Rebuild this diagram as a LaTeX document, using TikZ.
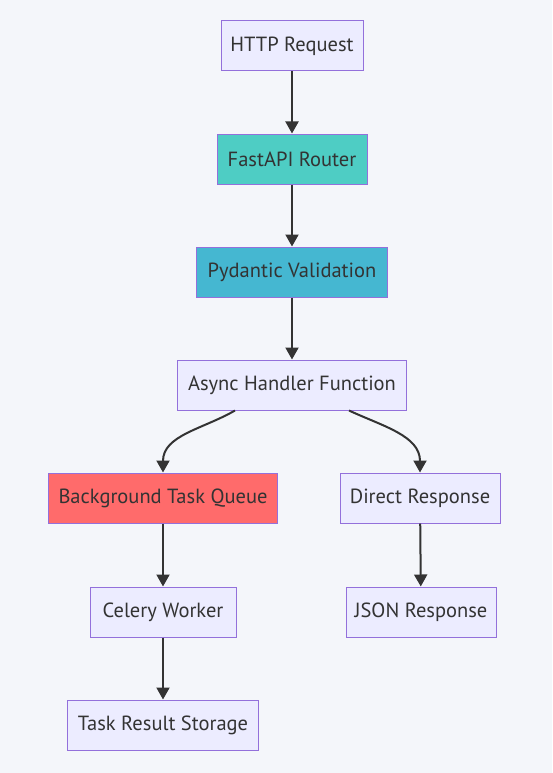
\documentclass[tikz,border=0pt]{standalone}
\usepackage{fontspec}
\setmainfont{PT Sans}
\usepackage{tikz}
\usetikzlibrary{shapes,arrows.meta}
\definecolor{bgcol}{HTML}{F4F6FA}
\definecolor{boxfill}{HTML}{ECECFF}
\definecolor{boxline}{HTML}{9370DB}
\definecolor{linecol}{HTML}{333333}
\definecolor{teal}{HTML}{4ECDC4}
\definecolor{sky}{HTML}{45B7D1}
\definecolor{coral}{HTML}{FF6B6B}

\begin{document}
\begin{tikzpicture}[x=1pt,y=-1pt,
  box/.style={draw=boxline,fill=boxfill,line width=1pt,minimum height=50pt,inner xsep=6pt,
    font=\fontsize{20.5}{24}\selectfont,text=linecol},
  flow/.style={draw=linecol,line width=2pt,-{Triangle[length=12pt,width=13pt]}}]
  \fill[bgcol] (0,0) rectangle (552,773);
  \useasboundingbox (0,0) rectangle (552,773);
  \node[box,minimum width=142pt] (req) at (292,46) {HTTP Request};
  \node[box,fill=teal,minimum width=150pt] (router) at (292,159) {FastAPI Router};
  \node[box,fill=sky,minimum width=191pt] (valid) at (292,272) {Pydantic Validation};
  \node[box,minimum width=229pt] (handler) at (292,385) {Async Handler Function};
  \node[box,fill=coral,minimum width=229pt] (queue) at (163,498) {Background Task Queue};
  \node[box,minimum width=160pt] (direct) at (420,498) {Direct Response};
  \node[box,minimum width=146pt] (worker) at (163,612) {Celery Worker};
  \node[box,minimum width=150pt] (json) at (421,612) {JSON Response};
  \node[box,minimum width=191pt] (store) at (163,725) {Task Result Storage};
  \draw[flow] (req) -- (router);
  \draw[flow] (router) -- (valid);
  \draw[flow] (valid) -- (handler);
  \draw[flow] ([xshift=-57pt]handler.south) to[out=-150,in=90] (queue.north);
  \draw[flow] ([xshift=57pt]handler.south) to[out=-25,in=90] (direct.north);
  \draw[flow] (queue) -- (worker);
  \draw[flow] (worker) -- (store);
  \draw[flow] (direct) -- (json);
\end{tikzpicture}
\end{document}
